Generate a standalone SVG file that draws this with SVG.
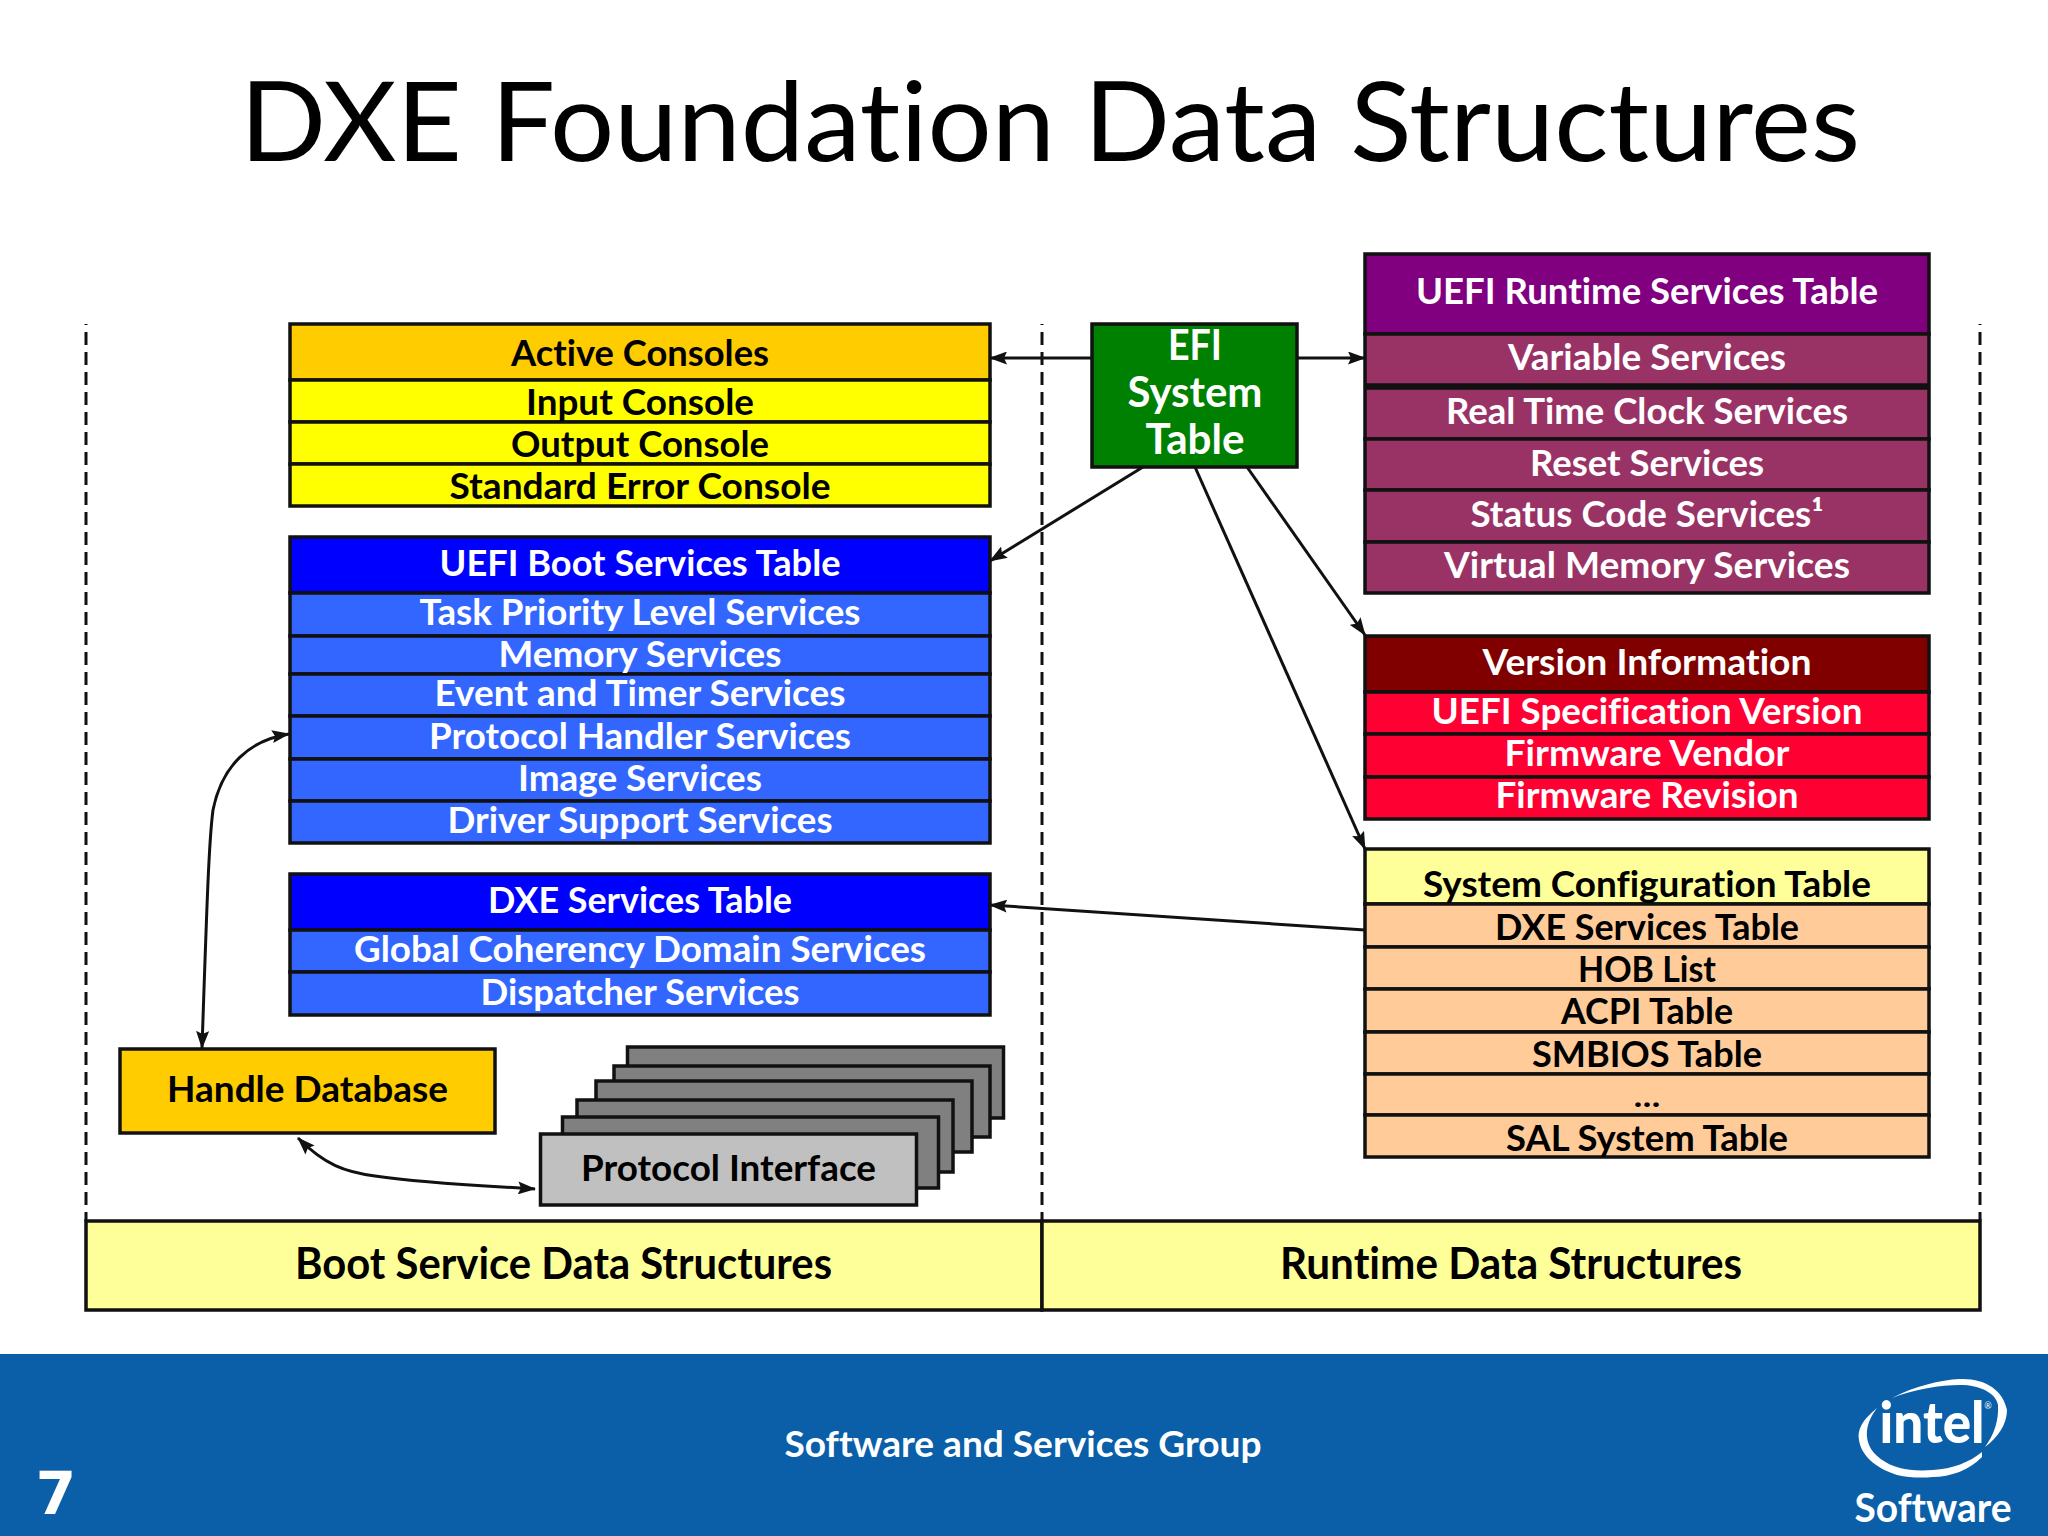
<svg xmlns="http://www.w3.org/2000/svg" width="2048" height="1536" viewBox="0 0 2048 1536">
<style>
text{font-family:"Lato","Carlito","Liberation Sans",sans-serif;text-anchor:middle;font-variant-ligatures:none}
.t{font-size:36px;font-weight:700}
.e{font-size:42px;font-weight:700}
.b{font-size:43px;font-weight:700}
.w{fill:#fff}.k{fill:#000}
rect{stroke:#111;stroke-width:3.500}
.or{fill:#FFCC00}.ye{fill:#FFFF00}.bl{fill:#0000FF}.lb{fill:#3366FF}.pu{fill:#800080}.pl{fill:#993366}.dr{fill:#800000}.re{fill:#FF0033}.ly{fill:#FFFF99}.pe{fill:#FFCC99}.gr{fill:#008000}.g1{fill:#808080}.g2{fill:#C0C0C0}
.dash{stroke:#111;stroke-width:3;stroke-dasharray:13 7;stroke-dashoffset:12;fill:none}
.con{stroke:#111;stroke-width:3;fill:none}
</style>
<defs>
<marker id="ah" viewBox="0 0 18 13" refX="17" refY="6.500" markerWidth="18" markerHeight="13" markerUnits="userSpaceOnUse" orient="auto-start-reverse"><path d="M0 0L18 6.500L0 13L3 6.500Z" fill="#111"/></marker>
</defs>
<rect width="2048" height="1536" style="fill:#fff;stroke:none"/>
<text id="title" x="1050" y="161" font-size="110" textLength="1620" lengthAdjust="spacingAndGlyphs" fill="#000">DXE Foundation Data Structures</text>

<g id="dividers">
<path class="dash" d="M86 324V1221M1042 324V1221M1980 324V1221"/>
</g>

<g id="active-consoles">
<rect class="or" x="290" y="324" width="700" height="56"/>
<rect class="ye" x="290" y="380" width="700" height="42"/>
<rect class="ye" x="290" y="422" width="700" height="42"/>
<rect class="ye" x="290" y="464" width="700" height="42"/>
<text class="t k" x="640" y="366" textLength="258" lengthAdjust="spacingAndGlyphs">Active Consoles</text>
<text class="t k" x="640" y="415" textLength="228" lengthAdjust="spacingAndGlyphs">Input Console</text>
<text class="t k" x="640" y="457" textLength="258" lengthAdjust="spacingAndGlyphs">Output Console</text>
<text class="t k" x="640" y="499" textLength="381" lengthAdjust="spacingAndGlyphs">Standard Error Console</text>
</g>

<g id="boot-services">
<rect class="bl" x="290" y="537" width="700" height="56"/>
<rect class="lb" x="290" y="593" width="700" height="43"/>
<rect class="lb" x="290" y="636" width="700" height="38"/>
<rect class="lb" x="290" y="674" width="700" height="42"/>
<rect class="lb" x="290" y="716" width="700" height="43"/>
<rect class="lb" x="290" y="759" width="700" height="42"/>
<rect class="lb" x="290" y="801" width="700" height="42"/>
<text class="t w" x="640" y="576" textLength="401" lengthAdjust="spacingAndGlyphs">UEFI Boot Services Table</text>
<text class="t w" x="640" y="625" textLength="441" lengthAdjust="spacingAndGlyphs">Task Priority Level Services</text>
<text class="t w" x="640" y="667" textLength="283" lengthAdjust="spacingAndGlyphs">Memory Services</text>
<text class="t w" x="640" y="706" textLength="411" lengthAdjust="spacingAndGlyphs">Event and Timer Services</text>
<text class="t w" x="640" y="749" textLength="422" lengthAdjust="spacingAndGlyphs">Protocol Handler Services</text>
<text class="t w" x="640" y="791" textLength="244" lengthAdjust="spacingAndGlyphs">Image Services</text>
<text class="t w" x="640" y="833" textLength="385" lengthAdjust="spacingAndGlyphs">Driver Support Services</text>
</g>

<g id="dxe-services">
<rect class="bl" x="290" y="874" width="700" height="56"/>
<rect class="lb" x="290" y="930" width="700" height="42"/>
<rect class="lb" x="290" y="972" width="700" height="43"/>
<text class="t w" x="640" y="913" textLength="304" lengthAdjust="spacingAndGlyphs">DXE Services Table</text>
<text class="t w" x="640" y="962" textLength="572" lengthAdjust="spacingAndGlyphs">Global Coherency Domain Services</text>
<text class="t w" x="640" y="1005" textLength="319" lengthAdjust="spacingAndGlyphs">Dispatcher Services</text>
</g>

<g id="handle-database">
<rect class="or" x="120" y="1049" width="375" height="84"/>
<text class="t k" x="307.500" y="1102" textLength="281" lengthAdjust="spacingAndGlyphs">Handle Database</text>
</g>

<g id="protocol-interface">
<rect class="g1" x="627.500" y="1047" width="376" height="71"/>
<rect class="g1" x="614" y="1066" width="376" height="71"/>
<rect class="g1" x="596" y="1081" width="376" height="71"/>
<rect class="g1" x="577" y="1100" width="376" height="72"/>
<rect class="g1" x="562.500" y="1117" width="376" height="71"/>
<rect class="g2" x="540.500" y="1134" width="376" height="71"/>
<text class="t k" x="728.500" y="1181" textLength="295" lengthAdjust="spacingAndGlyphs">Protocol Interface</text>
</g>

<g id="efi-system-table">
<rect class="gr" x="1092" y="324" width="205" height="143"/>
<text class="e w" x="1195" y="360" textLength="54" lengthAdjust="spacingAndGlyphs">EFI</text>
<text class="e w" x="1195" y="407" textLength="135" lengthAdjust="spacingAndGlyphs">System</text>
<text class="e w" x="1195" y="454" textLength="99" lengthAdjust="spacingAndGlyphs">Table</text>
</g>

<g id="runtime-services">
<rect class="pu" x="1365" y="254" width="564" height="80"/>
<rect class="pl" x="1365" y="334" width="564" height="51"/>
<rect class="pl" x="1365" y="388" width="564" height="51"/>
<rect class="pl" x="1365" y="439" width="564" height="51"/>
<rect class="pl" x="1365" y="490" width="564" height="52"/>
<rect class="pl" x="1365" y="542" width="564" height="51"/>
<path d="M1365 386.500H1929" stroke="#111" stroke-width="4"/>
<text class="t w" x="1647" y="304" textLength="462" lengthAdjust="spacingAndGlyphs">UEFI Runtime Services Table</text>
<text class="t w" x="1647" y="370" textLength="278" lengthAdjust="spacingAndGlyphs">Variable Services</text>
<text class="t w" x="1647" y="424" textLength="402" lengthAdjust="spacingAndGlyphs">Real Time Clock Services</text>
<text class="t w" x="1647" y="476" textLength="234" lengthAdjust="spacingAndGlyphs">Reset Services</text>
<text class="t w" x="1647" y="527" textLength="353" lengthAdjust="spacingAndGlyphs">Status Code Services¹</text>
<text class="t w" x="1647" y="578" textLength="406" lengthAdjust="spacingAndGlyphs">Virtual Memory Services</text>
</g>

<g id="version-information">
<rect class="dr" x="1365" y="636" width="564" height="56"/>
<rect class="re" x="1365" y="692" width="564" height="42"/>
<rect class="re" x="1365" y="734" width="564" height="43"/>
<rect class="re" x="1365" y="777" width="564" height="42"/>
<text class="t w" x="1647" y="675" textLength="329" lengthAdjust="spacingAndGlyphs">Version Information</text>
<text class="t w" x="1647" y="724" textLength="431" lengthAdjust="spacingAndGlyphs">UEFI Specification Version</text>
<text class="t w" x="1647" y="766" textLength="285" lengthAdjust="spacingAndGlyphs">Firmware Vendor</text>
<text class="t w" x="1647" y="808" textLength="303" lengthAdjust="spacingAndGlyphs">Firmware Revision</text>
</g>

<g id="system-configuration-table">
<rect class="ly" x="1365" y="849" width="564" height="55"/>
<rect class="pe" x="1365" y="904" width="564" height="43"/>
<rect class="pe" x="1365" y="947" width="564" height="42"/>
<rect class="pe" x="1365" y="989" width="564" height="43"/>
<rect class="pe" x="1365" y="1032" width="564" height="42"/>
<rect class="pe" x="1365" y="1074" width="564" height="41"/>
<rect class="pe" x="1365" y="1115" width="564" height="42"/>
<text class="t k" x="1647" y="897" textLength="448" lengthAdjust="spacingAndGlyphs">System Configuration Table</text>
<text class="t k" x="1647" y="940" textLength="304" lengthAdjust="spacingAndGlyphs">DXE Services Table</text>
<text class="t k" x="1647" y="982" textLength="138" lengthAdjust="spacingAndGlyphs">HOB List</text>
<text class="t k" x="1647" y="1024" textLength="172" lengthAdjust="spacingAndGlyphs">ACPI Table</text>
<text class="t k" x="1647" y="1067" textLength="230" lengthAdjust="spacingAndGlyphs">SMBIOS Table</text>
<text class="t k" x="1647" y="1107" style="font-size:28px;font-weight:900" textLength="26" lengthAdjust="spacingAndGlyphs">…</text>
<text class="t k" x="1647" y="1151" textLength="282" lengthAdjust="spacingAndGlyphs">SAL System Table</text>
</g>

<g id="boot-service-label">
<rect class="ly" x="86" y="1221" width="956" height="89"/>
<text class="b k" x="563.500" y="1279" textLength="537" lengthAdjust="spacingAndGlyphs">Boot Service Data Structures</text>
</g>
<g id="runtime-label">
<rect class="ly" x="1042" y="1221" width="938" height="89"/>
<text class="b k" x="1511" y="1279" textLength="462" lengthAdjust="spacingAndGlyphs">Runtime Data Structures</text>
</g>

<g id="connectors">
<path class="con" marker-end="url(#ah)" d="M1092 358H990"/>
<path class="con" marker-end="url(#ah)" d="M1297 358H1365"/>
<path class="con" marker-end="url(#ah)" d="M1143 467L990 561"/>
<path class="con" marker-end="url(#ah)" d="M1247 467L1365 635"/>
<path class="con" marker-end="url(#ah)" d="M1195 467L1365 849"/>
<path class="con" marker-end="url(#ah)" d="M1365 930L990 905"/>
<path class="con" marker-start="url(#ah)" marker-end="url(#ah)" d="M289 734C250 740 222 765 213 810C209 840 207 900 202 1048"/>
<path class="con" marker-start="url(#ah)" marker-end="url(#ah)" d="M298 1138C325 1165 345 1172 375 1176C430 1184 490 1186 535 1189"/>
</g>

<g id="footer">
<rect x="0" y="1354" width="2048" height="182" style="fill:#0A5FA8;stroke:none"/>
<text class="w" x="1023" y="1457" style="font-size:36px;font-weight:700" textLength="477" lengthAdjust="spacingAndGlyphs">Software and Services Group</text>
<text class="w" x="56" y="1514" style="font-family:'DejaVu Sans',sans-serif;font-size:58px;font-weight:700">7</text>
<g id="intel-logo" fill="#fff">
<path d="M1892 1398C1915 1386 1940 1380 1960 1379C1985 1378 2003 1390 2007 1410C2007 1425 1997 1438 1985 1447C1994 1435 1999 1420 1998 1405C1996 1393 1980 1385 1960 1385C1940 1385 1915 1389 1892 1398Z"/>
<path d="M1877 1408C1862 1420 1857 1430 1859 1440C1861 1455 1875 1468 1897 1475C1910 1478 1922 1478 1933 1477C1950 1477 1970 1470 1982 1457V1452C1970 1462 1952 1469 1933 1470C1918 1471 1908 1470 1900 1468C1885 1464 1873 1455 1869 1445C1864 1432 1868 1420 1877 1408Z"/>
<text class="w" x="1932" y="1443" style="font-size:58px;font-weight:900" textLength="105" lengthAdjust="spacingAndGlyphs">intel</text>
<text class="w" x="1988" y="1409" style="font-size:9px">®</text>
<text class="w" x="1933" y="1522" style="font-size:41px;font-weight:700" textLength="157" lengthAdjust="spacingAndGlyphs">Software</text>
</g>
</g>
</svg>
